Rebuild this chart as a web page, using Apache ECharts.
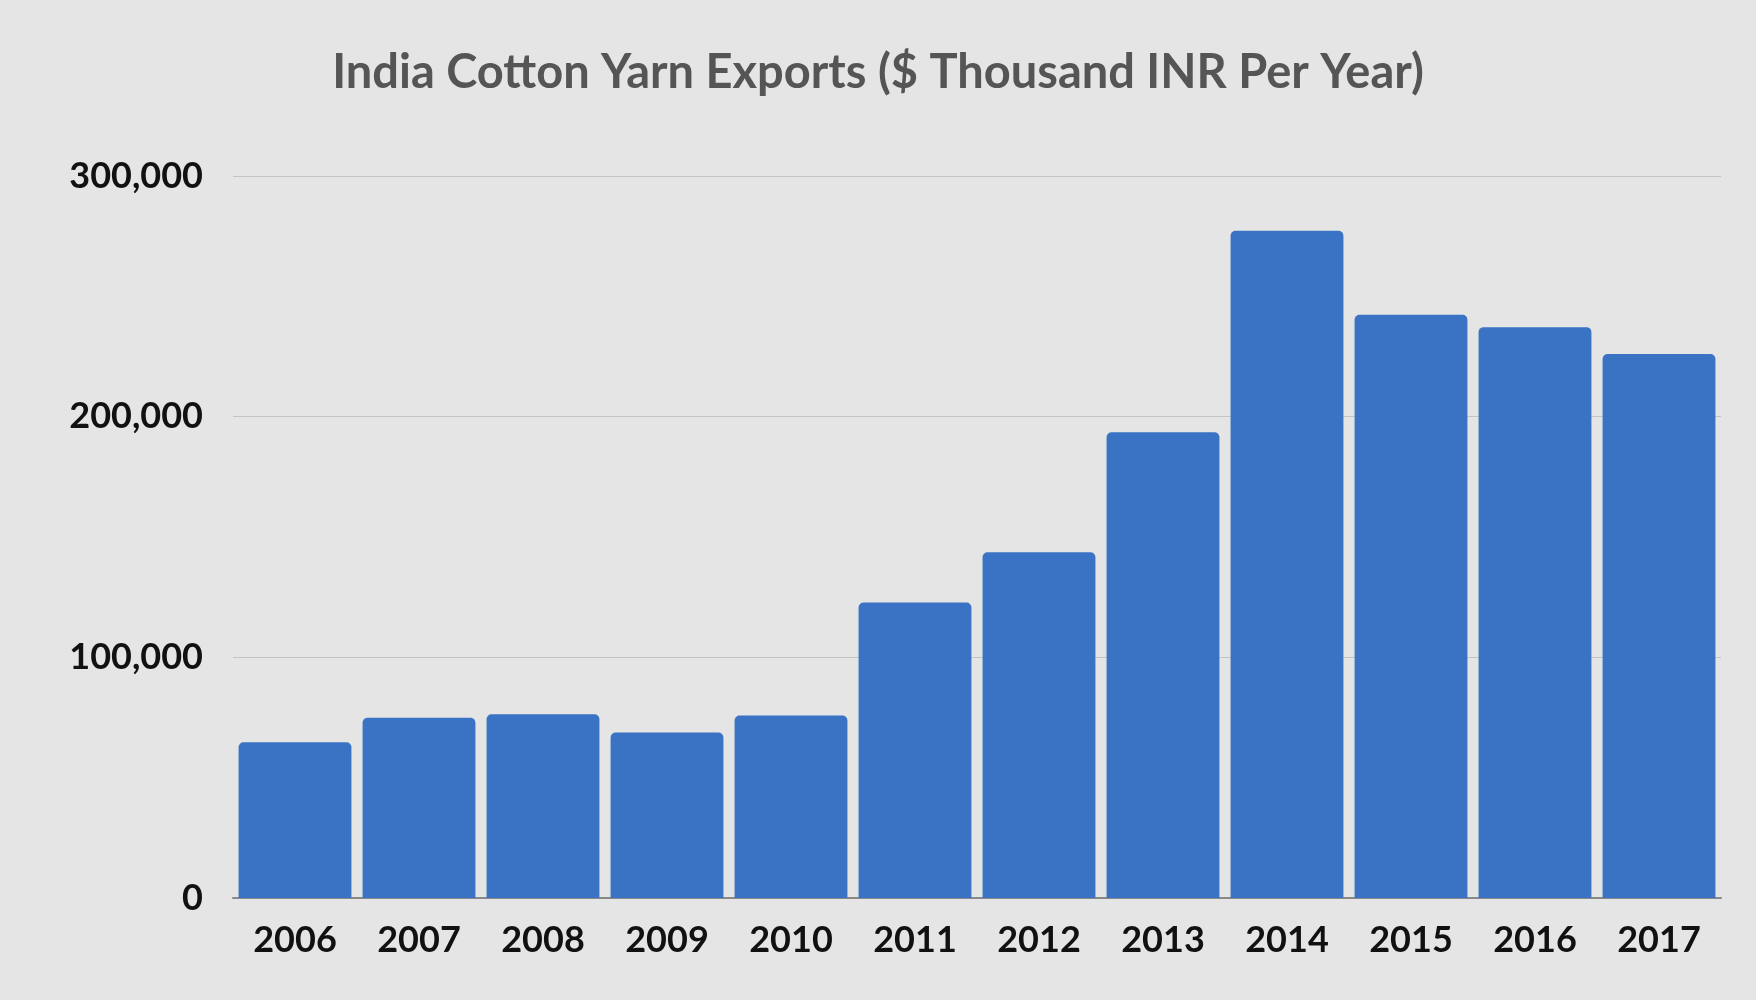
<!DOCTYPE html>
<html><head><meta charset="utf-8">
<script src="https://cdn.jsdelivr.net/npm/echarts@6/dist/echarts.min.js"></script>
<style>html,body{margin:0;padding:0;background:#e5e5e5}#c{width:1756px;height:1000px}</style>
</head><body><div id="c"></div>
<script>
const years = ['2006','2007','2008','2009','2010','2011','2012','2013','2014','2015','2016','2017'];
const exportsVals = [64700, 74900, 76300, 68800, 75800, 122800, 143700, 193500, 277200, 242300, 237200, 226000];
const yTicks = [0, 100000, 200000, 300000];
const chart = echarts.init(document.getElementById('c'));
chart.setOption({
  backgroundColor: '#e5e5e5',
  title: {text: 'India Cotton Yarn Exports ($ Thousand INR Per Year)', left: 'center', top: 44,
    textStyle: {fontFamily: 'Lato', fontWeight: 'bold', fontSize: 47, color: '#555555'}},
  grid: {left: 233, right: 35, top: 176, bottom: 102},
  xAxis: {type: 'category', data: years,
    axisLine: {lineStyle: {color: '#888', width: 2}}, axisTick: {show: false},
    axisLabel: {fontFamily: 'Lato', fontWeight: 'bold', fontSize: 36, color: '#111', margin: 24}},
  yAxis: {type: 'value', min: 0, max: 300000, interval: 100000,
    axisLine: {show: false}, axisTick: {show: false},
    splitLine: {lineStyle: {color: '#c4c4c4', width: 1}},
    axisLabel: {fontFamily: 'Lato', fontWeight: 'bold', fontSize: 36, color: '#111', margin: 30,
      formatter: v => yTicks.includes(v) ? v.toLocaleString('en-US') : ''}},
  series: [{type: 'bar', data: exportsVals, barCategoryGap: '9%',
    itemStyle: {color: '#3a73c4', borderRadius: [5,5,0,0]}}]
});
</script></body></html>
